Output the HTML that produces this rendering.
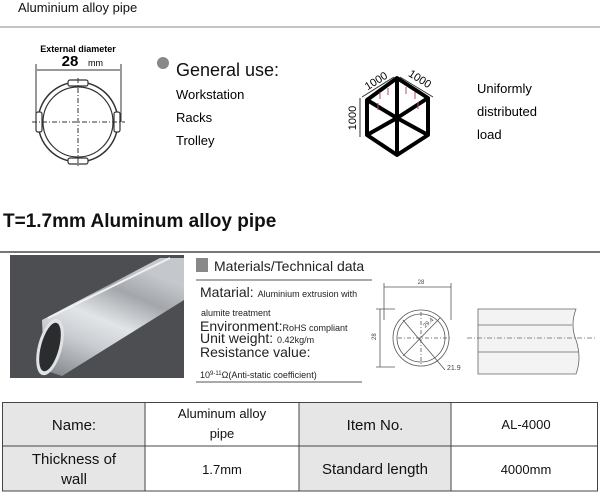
<!DOCTYPE html>
<html><head><meta charset="utf-8"><style>
body{margin:0;background:#fff;width:600px;height:497px;overflow:hidden;font-family:"Liberation Sans",sans-serif}
svg{display:block}
</style></head><body>
<svg width="600" height="497" viewBox="0 0 600 497" xmlns="http://www.w3.org/2000/svg" font-family="Liberation Sans, sans-serif">
<defs>
<linearGradient id="pg" x1="0" y1="1" x2="0.5" y2="0">
<stop offset="0" stop-color="#7d8185"/><stop offset="0.35" stop-color="#c9cdd1"/><stop offset="0.55" stop-color="#e2e5e8"/><stop offset="0.8" stop-color="#a3a7ab"/><stop offset="1" stop-color="#c4c8cc"/></linearGradient>
</defs>
<text x="18" y="12" font-size="13" fill="#111">Aluminium alloy pipe</text>
<line x1="0" y1="27" x2="600" y2="27" stroke="#888" stroke-width="1"/>
<text x="78" y="52" font-size="9" font-weight="bold" text-anchor="middle">External diameter</text>
<text x="70" y="66" font-size="15" font-weight="bold" text-anchor="middle">28</text><text x="88" y="66" font-size="9">mm</text>
<line x1="36" y1="64" x2="36" y2="122" stroke="#333"/><line x1="121" y1="64" x2="121" y2="122" stroke="#333"/>
<line x1="37" y1="70" x2="120" y2="70" stroke="#333"/>
<circle cx="78" cy="122" r="40" fill="none" stroke="#333" stroke-width="1.5"/>
<circle cx="78" cy="122" r="35" fill="none" stroke="#333" stroke-width="1.2"/>
<g stroke="#333" stroke-width="1.2" fill="#fff">
<rect x="68" y="80" width="20" height="6" rx="2"/><rect x="68" y="158" width="20" height="6" rx="2"/>
<rect x="36" y="112" width="6" height="20" rx="2"/><rect x="114" y="112" width="6" height="20" rx="2"/></g>
<line x1="78" y1="78" x2="78" y2="168" stroke="#333" stroke-dasharray="5,2,1,2"/>
<line x1="32" y1="122" x2="125" y2="122" stroke="#333" stroke-dasharray="5,2,1,2"/>
<circle cx="163" cy="63" r="6" fill="#888"/>
<text x="176" y="76" font-size="18" fill="#111">General use:</text>
<text x="176" y="99" font-size="13">Workstation</text>
<text x="176" y="122" font-size="13">Racks</text>
<text x="176" y="145" font-size="13">Trolley</text>
<g stroke="#000" stroke-width="4" fill="none" stroke-linejoin="round">
<polygon points="397,78 428,98 428,135 397,155 367,135 367,100"/>
<line x1="397" y1="78" x2="397" y2="155"/><line x1="367" y1="100" x2="397" y2="118"/><line x1="428" y1="98" x2="397" y2="118"/>
<line x1="367" y1="135" x2="397" y2="118"/><line x1="428" y1="135" x2="397" y2="118"/></g>
<g stroke="#b05070" stroke-width="1"><line x1="380" y1="92" x2="380" y2="99"/><line x1="388" y1="88" x2="388" y2="95"/><line x1="406" y1="87" x2="406" y2="94"/><line x1="415" y1="92" x2="415" y2="99"/><line x1="378" y1="103" x2="378" y2="110"/><line x1="418" y1="102" x2="418" y2="109"/></g>
<line x1="362" y1="97" x2="394" y2="77" stroke="#333"/><line x1="400" y1="77" x2="433" y2="97" stroke="#333"/>
<line x1="360" y1="98" x2="360" y2="137" stroke="#333"/>
<text x="378" y="84" font-size="11" transform="rotate(-32 378 84)" text-anchor="middle">1000</text>
<text x="418" y="82" font-size="11" transform="rotate(32 418 82)" text-anchor="middle">1000</text>
<text x="356" y="118" font-size="11" transform="rotate(-90 356 118)" text-anchor="middle">1000</text>
<text x="477" y="93" font-size="13">Uniformly</text>
<text x="477" y="116" font-size="13">distributed</text>
<text x="477" y="139" font-size="13">load</text>
<text x="3" y="227" font-size="19" font-weight="bold" fill="#111">T=1.7mm Aluminum alloy pipe</text>
<line x1="0" y1="252" x2="600" y2="252" stroke="#777" stroke-width="2"/>
<rect x="10" y="255" width="174" height="123" fill="#4c4e51"/>
<polygon points="42,320 160,258 184,258 184,300 62,376 44,370" fill="url(#pg)"/>
<line x1="48" y1="318" x2="170" y2="258" stroke="#eef0f2" stroke-width="2"/>
<ellipse cx="50" cy="347" rx="12" ry="29" fill="#e0e3e6" transform="rotate(15 50 347)"/>
<ellipse cx="50" cy="347" rx="9" ry="25" fill="#2a2c2e" transform="rotate(15 50 347)"/>
<rect x="196" y="258" width="12" height="14" fill="#888"/>
<text x="214" y="271" font-size="14" fill="#222">Materials/Technical data</text>
<line x1="196" y1="280" x2="372" y2="280" stroke="#555"/>
<text x="200" y="297" font-size="14" fill="#222">Matarial: <tspan font-size="9">Aluminium extrusion with</tspan></text>
<text x="201" y="316" font-size="9" fill="#222">alumite treatment</text>
<text x="200" y="331" font-size="14" fill="#222">Environment:<tspan font-size="9">RoHS compliant</tspan></text>
<text x="200" y="343" font-size="14" fill="#222">Unit weight: <tspan font-size="9">0.42kg/m</tspan></text>
<text x="200" y="357" font-size="14" fill="#222">Resistance value:</text>
<text x="200" y="378" font-size="9" fill="#222">10<tspan font-size="6" dy="-3">9-11</tspan><tspan dy="3">Ω(Anti-static coefficient)</tspan></text>
<line x1="196" y1="382" x2="362" y2="382" stroke="#555"/>
<g stroke="#555" stroke-width="0.8" fill="none">
<line x1="384" y1="283" x2="384" y2="320"/><line x1="451" y1="283" x2="451" y2="320"/><line x1="384" y1="287" x2="451" y2="287"/>
<line x1="376" y1="309" x2="395" y2="309"/><line x1="376" y1="367" x2="395" y2="367"/><line x1="380" y1="309" x2="380" y2="367"/>
<circle cx="421" cy="338" r="28"/><circle cx="421" cy="338" r="24"/>
<line x1="398" y1="338" x2="450" y2="338" stroke-dasharray="4,2,1,2"/>
<line x1="421" y1="312" x2="421" y2="364" stroke-dasharray="4,2,1,2"/>
<line x1="403" y1="356" x2="440" y2="318"/><line x1="403" y1="320" x2="445" y2="370"/>
</g>
<text x="421" y="284" font-size="6" text-anchor="middle" fill="#444">28</text>
<text x="425" y="328" font-size="6" fill="#444" transform="rotate(-40 425 328)">29.4</text>
<text x="376" y="340" font-size="6" fill="#444" transform="rotate(-90 376 340)">28</text>
<text x="447" y="370" font-size="7" fill="#444">21.9</text>
<path d="M478,309 L576,309 Q570,325 576,340 Q582,358 576,374 L478,374 Z" fill="#f3f3f3" stroke="#666" stroke-width="0.8"/>
<line x1="478" y1="325" x2="572" y2="325" stroke="#666" stroke-width="0.8"/>
<line x1="478" y1="352" x2="578" y2="352" stroke="#666" stroke-width="0.8"/>
<line x1="467" y1="338" x2="596" y2="338" stroke="#666" stroke-width="0.8" stroke-dasharray="5,2,1,2"/>
<rect x="2" y="402" width="143" height="89" fill="#e6e6e6"/>
<rect x="299" y="402" width="152" height="89" fill="#e6e6e6"/>
<g stroke="#444" stroke-width="1" fill="none">
<rect x="2.5" y="402.5" width="595" height="88.5"/>
<line x1="145" y1="402" x2="145" y2="491"/><line x1="299" y1="402" x2="299" y2="491"/><line x1="451" y1="402" x2="451" y2="491"/>
<line x1="2" y1="446" x2="598" y2="446"/></g>
<g text-anchor="middle" fill="#111">
<text x="74" y="430" font-size="15">Name:</text>
<text x="222" y="418" font-size="13">Aluminum alloy</text><text x="222" y="438" font-size="13">pipe</text>
<text x="375" y="430" font-size="15">Item No.</text>
<text x="526" y="429" font-size="13">AL-4000</text>
<text x="74" y="464" font-size="15">Thickness of</text><text x="74" y="484" font-size="15">wall</text>
<text x="222" y="474" font-size="13">1.7mm</text>
<text x="375" y="474" font-size="15">Standard length</text>
<text x="526" y="474" font-size="13">4000mm</text>
</g>
</svg>
</body></html>
